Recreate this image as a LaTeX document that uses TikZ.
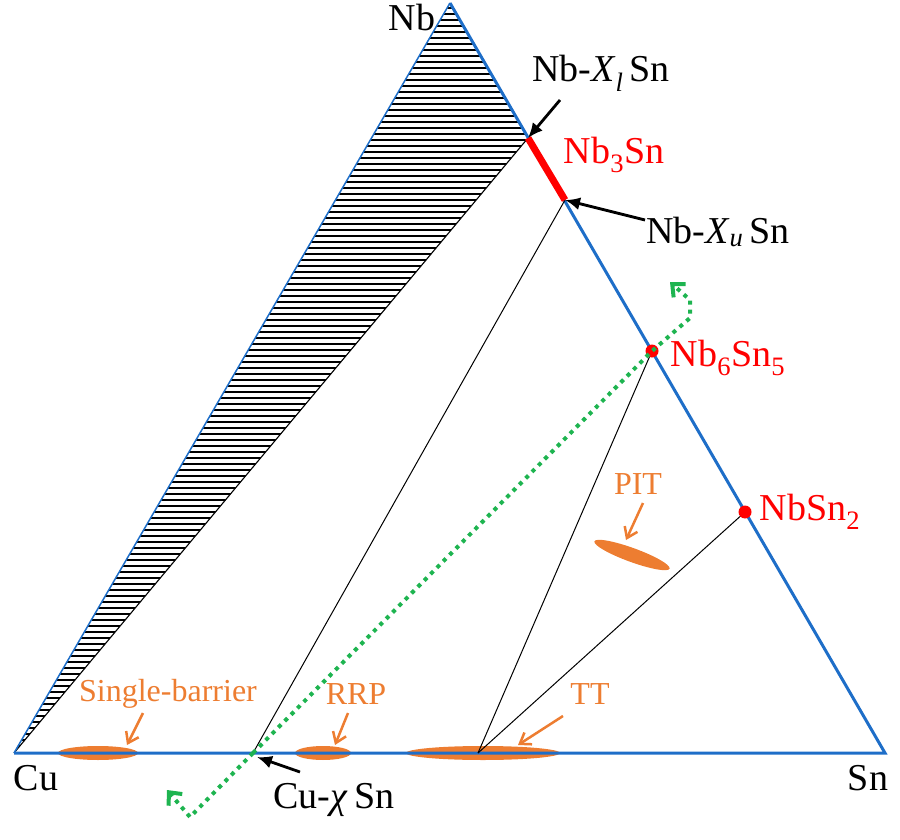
\documentclass[tikz,border=0pt]{standalone}
\usepackage{fontspec}
\setmainfont{Liberation Serif}
\usetikzlibrary{arrows.meta}
\definecolor{eblue}{RGB}{30,110,200}
\definecolor{ora}{RGB}{237,125,49}
\definecolor{grn}{RGB}{30,180,80}
\tikzset{
 lbl/.style={font=\fontsize{38}{44}\selectfont, inner sep=1pt},
 rlbl/.style={lbl, text=red},
 olbl/.style={font=\fontsize{32}{36}\selectfont, text=ora, inner sep=1pt},
 blob/.style={fill=ora, draw=none},
 oarr/.style={ora, line width=2.5pt, -{Straight Barb[length=10pt,width=14pt]}},
 karr/.style={black, line width=2.8pt, -{Latex[length=15pt,width=13pt]}},
 tie/.style={black, line width=1pt},
 gpath/.style={grn, line width=4pt, dash pattern=on 4pt off 5pt, -{Straight Barb[length=10pt,width=18pt]}}
}
\begin{document}
\begin{tikzpicture}[x=1pt,y=-1pt]
\useasboundingbox (0,0) rectangle (900,840);
\coordinate (Nb) at (450,3);
\coordinate (Cu) at (14,753);
\coordinate (Sn) at (885,753);
\coordinate (XL) at (528,138);
\coordinate (XU) at (565,200);
\coordinate (N65) at (652,351);
\coordinate (N12) at (745,512);
\coordinate (CX) at (253,753);
\coordinate (TTp) at (478,753);
% hatch
\begin{scope}
\clip (Nb) -- (XL) -- (Cu) -- cycle;
\foreach \y in {8,14,...,752} \draw[line width=1.1pt] (0,\y) -- (900,\y);
\end{scope}
\draw[line width=1.1pt] (XL) -- (Cu);
% blobs
\fill[blob] (98,753) ellipse (40 and 7);
\fill[blob] (323,753) ellipse (28 and 7);
\fill[blob] (483,753) ellipse (77 and 7);
\fill[blob, rotate around={-20:(632,555)}] (632,555) ellipse (40 and 7);
% triangle
\draw[eblue, line width=3pt] (Nb) -- (Sn) -- (Cu);
\draw[eblue, line width=1.5pt] (Cu) -- (Nb);
% ties
\draw[tie] (XU) -- (CX);
\draw[tie] (N65) -- (TTp);
\draw[tie] (N12) -- (TTp);
\draw[red, line width=7pt] (XL) -- (XU);
\fill[red] (N65) circle (6.5);
\fill[red] (N12) circle (6.5);
% green path
\draw[gpath] (CX) -- (190,817) -- (167,790);
\draw[gpath] (CX) -- (N65) -- (690,318) -- (690,300) -- (670,282);
% labels
\node[lbl] (lNb) at (412,18) {Nb};
\node[lbl] (lCu) at (36,778) {Cu};
\node[lbl] (lSn) at (868,778) {Sn};
\node[lbl] (lXL) at (601,73) {Nb-\textit{X}\textsubscript{\textit{l}}\,Sn};
\node[lbl] (lXU) at (718,232) {Nb-\textit{X}\textsubscript{\textit{u}}\,Sn};
\node[lbl] (lCX) at (334,800) {Cu-\textit{χ}\,Sn};
\node[rlbl] (l3) at (614,155) {Nb\textsubscript{3}Sn};
\node[rlbl] (l65) at (728,358) {Nb\textsubscript{6}Sn\textsubscript{5}};
\node[rlbl] (l12) at (810,512) {NbSn\textsubscript{2}};
\draw[karr] (560,100) -- (XL);
\draw[karr] (645,220) -- (XU);
\draw[karr] (300,772) -- (257,757);
% orange labels
\node[olbl] (sb) at (168,694) {Single-barrier};
\node[olbl] (rrp) at (356,694) {RRP};
\node[olbl] (tt) at (590,694) {TT};
\node[olbl] (pit) at (638,484) {PIT};
\draw[oarr] (143,713) -- (127,745);
\draw[oarr] (348,713) -- (335,745);
\draw[oarr] (563,716) -- (518,745);
\draw[oarr] (643,503) -- (626,540);
\end{tikzpicture}
\end{document}
